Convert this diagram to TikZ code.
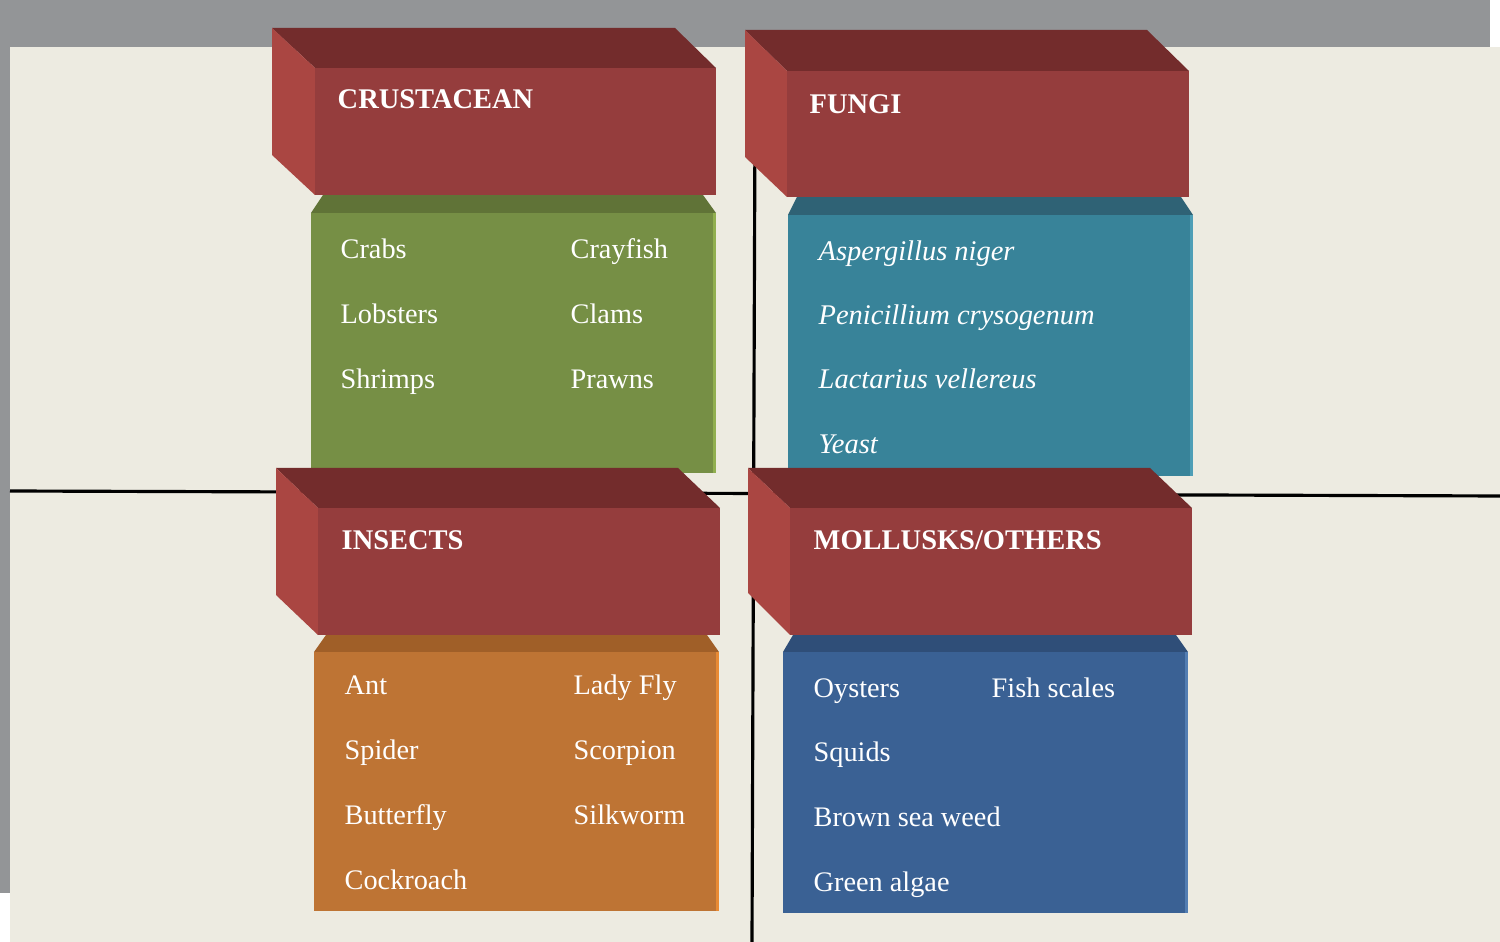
\documentclass[tikz,border=0pt]{standalone}
\usepackage{fontspec}
\setmainfont{Liberation Serif}
\definecolor{bggray}{RGB}{147,149,151}
\definecolor{bgcream}{RGB}{237,235,225}
\definecolor{headred}{RGB}{149,61,61}
\definecolor{headredtop}{RGB}{115,44,44}
\definecolor{headredside}{RGB}{170,70,66}
\definecolor{crustgreen}{RGB}{118,143,69}
\definecolor{crustgreentop}{RGB}{96,115,55}
\definecolor{crustgreenedge}{RGB}{145,175,80}
\definecolor{fungiteal}{RGB}{56,131,153}
\definecolor{fungitealtop}{RGB}{47,98,117}
\definecolor{fungitealedge}{RGB}{78,158,182}
\definecolor{insectorange}{RGB}{190,116,52}
\definecolor{insectorangetop}{RGB}{160,95,40}
\definecolor{insectorangeedge}{RGB}{232,138,52}
\definecolor{molluskblue}{RGB}{58,97,148}
\definecolor{molluskbluetop}{RGB}{47,78,120}
\definecolor{molluskblueedge}{RGB}{82,125,178}
\tikzset{
	head/.style={anchor=base west,inner sep=0pt,text=white,font=\fontsize{8.1}{9.7}\selectfont\bfseries},
	item/.style={anchor=base west,inner sep=0pt,text=white,font=\fontsize{8.05}{9.7}\selectfont},
	itemit/.style={item,font=\fontsize{8.1}{9.7}\selectfont\itshape}
}
\begin{document}
\begin{tikzpicture}[x=1cm,y=-1cm]
		\useasboundingbox (0,0) rectangle (15,9.42);

		% background
		\fill[white] (0,0) rectangle (15,9.42);
		\fill[bggray] (0,0) rectangle (14.9,0.47);
		\fill[bggray] (0,0.47) rectangle (0.1,8.93);
		\fill[bgcream] (0.1,0.47) rectangle (15,9.42);

		% cross lines
		\draw[line width=0.9pt] (0.1,4.91) -- (15,4.96);
		\draw[line width=0.9pt] (7.55,1.2) -- (7.52,9.42);

		% crustacean items
		\fill[crustgreentop] (3.23,1.95) -- (7.03,1.95) -- (7.16,2.13) -- (3.11,2.13) -- cycle;
		\fill[crustgreen] (3.11,2.13) rectangle (7.16,4.73);
		\fill[crustgreenedge] (7.13,2.13) rectangle (7.16,4.73);
		% crustacean head
		\fill[headredtop] (2.72,0.28) -- (6.75,0.28) -- (7.16,0.68) -- (3.15,0.68) -- cycle;
		\fill[headredside] (2.72,0.28) -- (3.15,0.68) -- (3.15,1.95) -- (2.72,1.55) -- cycle;
		\fill[headred] (3.15,0.68) rectangle (7.16,1.95);

		% fungi items
		\fill[fungitealtop] (7.97,1.97) -- (11.81,1.97) -- (11.93,2.15) -- (7.88,2.15) -- cycle;
		\fill[fungiteal] (7.88,2.15) rectangle (11.93,4.76);
		\fill[fungitealedge] (11.90,2.15) rectangle (11.93,4.76);
		% fungi head
		\fill[headredtop] (7.45,0.30) -- (11.47,0.30) -- (11.89,0.71) -- (7.87,0.71) -- cycle;
		\fill[headredside] (7.45,0.30) -- (7.87,0.71) -- (7.87,1.97) -- (7.45,1.57) -- cycle;
		\fill[headred] (7.87,0.71) rectangle (11.89,1.97);

		% insects items
		\fill[insectorangetop] (3.26,6.35) -- (7.07,6.35) -- (7.19,6.52) -- (3.14,6.52) -- cycle;
		\fill[insectorange] (3.14,6.52) rectangle (7.19,9.11);
		\fill[insectorangeedge] (7.16,6.52) rectangle (7.19,9.11);
		% insects head
		\fill[headredtop] (2.76,4.68) -- (6.78,4.68) -- (7.20,5.08) -- (3.18,5.08) -- cycle;
		\fill[headredside] (2.76,4.68) -- (3.18,5.08) -- (3.18,6.35) -- (2.76,5.95) -- cycle;
		\fill[headred] (3.18,5.08) rectangle (7.20,6.35);

		% mollusks items
		\fill[molluskbluetop] (7.93,6.35) -- (11.76,6.35) -- (11.88,6.52) -- (7.83,6.52) -- cycle;
		\fill[molluskblue] (7.83,6.52) rectangle (11.88,9.13);
		\fill[molluskblueedge] (11.85,6.52) rectangle (11.88,9.13);
		% mollusks head
		\fill[headredtop] (7.48,4.68) -- (11.50,4.68) -- (11.92,5.08) -- (7.90,5.08) -- cycle;
		\fill[headredside] (7.48,4.68) -- (7.90,5.08) -- (7.90,6.35) -- (7.48,5.93) -- cycle;
		\fill[headred] (7.90,5.08) rectangle (11.92,6.35);

		% titles
		\node[head] (crustacean) at (3.37,1.09) {CRUSTACEAN};
		\node[head] (fungi) at (8.09,1.14) {FUNGI};
		\node[head] (insects) at (3.41,5.50) {INSECTS};
		\node[head] (mollusks) at (8.13,5.50) {MOLLUSKS/OTHERS};

		% crustacean list
		\node[item] (crabs) at (3.40,2.59) {Crabs};
		\node[item] (crayfish) at (5.70,2.59) {Crayfish};
		\node[item] (lobsters) at (3.40,3.24) {Lobsters};
		\node[item] (clams) at (5.70,3.24) {Clams};
		\node[item] (shrimps) at (3.40,3.89) {Shrimps};
		\node[item] (prawns) at (5.70,3.89) {Prawns};

		% fungi list
		\node[itemit] (aspergillus) at (8.18,2.61) {Aspergillus niger};
		\node[itemit] (penicillium) at (8.18,3.25) {Penicillium crysogenum};
		\node[itemit] (lactarius) at (8.18,3.89) {Lactarius vellereus};
		\node[itemit] (yeast) at (8.18,4.54) {Yeast};

		% insects list
		\node[item] (ant) at (3.44,6.95) {Ant};
		\node[item] (ladyfly) at (5.73,6.95) {Lady Fly};
		\node[item] (spider) at (3.44,7.60) {Spider};
		\node[item] (scorpion) at (5.73,7.60) {Scorpion};
		\node[item] (butterfly) at (3.44,8.25) {Butterfly};
		\node[item] (silkworm) at (5.73,8.25) {Silkworm};
		\node[item] (cockroach) at (3.44,8.90) {Cockroach};

		% mollusks list
		\node[item] (oysters) at (8.13,6.98) {Oysters};
		\node[item] (fishscales) at (9.91,6.98) {Fish scales};
		\node[item] (squids) at (8.13,7.62) {Squids};
		\node[item] (seaweed) at (8.13,8.27) {Brown sea weed};
		\node[item] (algae) at (8.13,8.92) {Green algae};
	\end{tikzpicture}
\end{document}
